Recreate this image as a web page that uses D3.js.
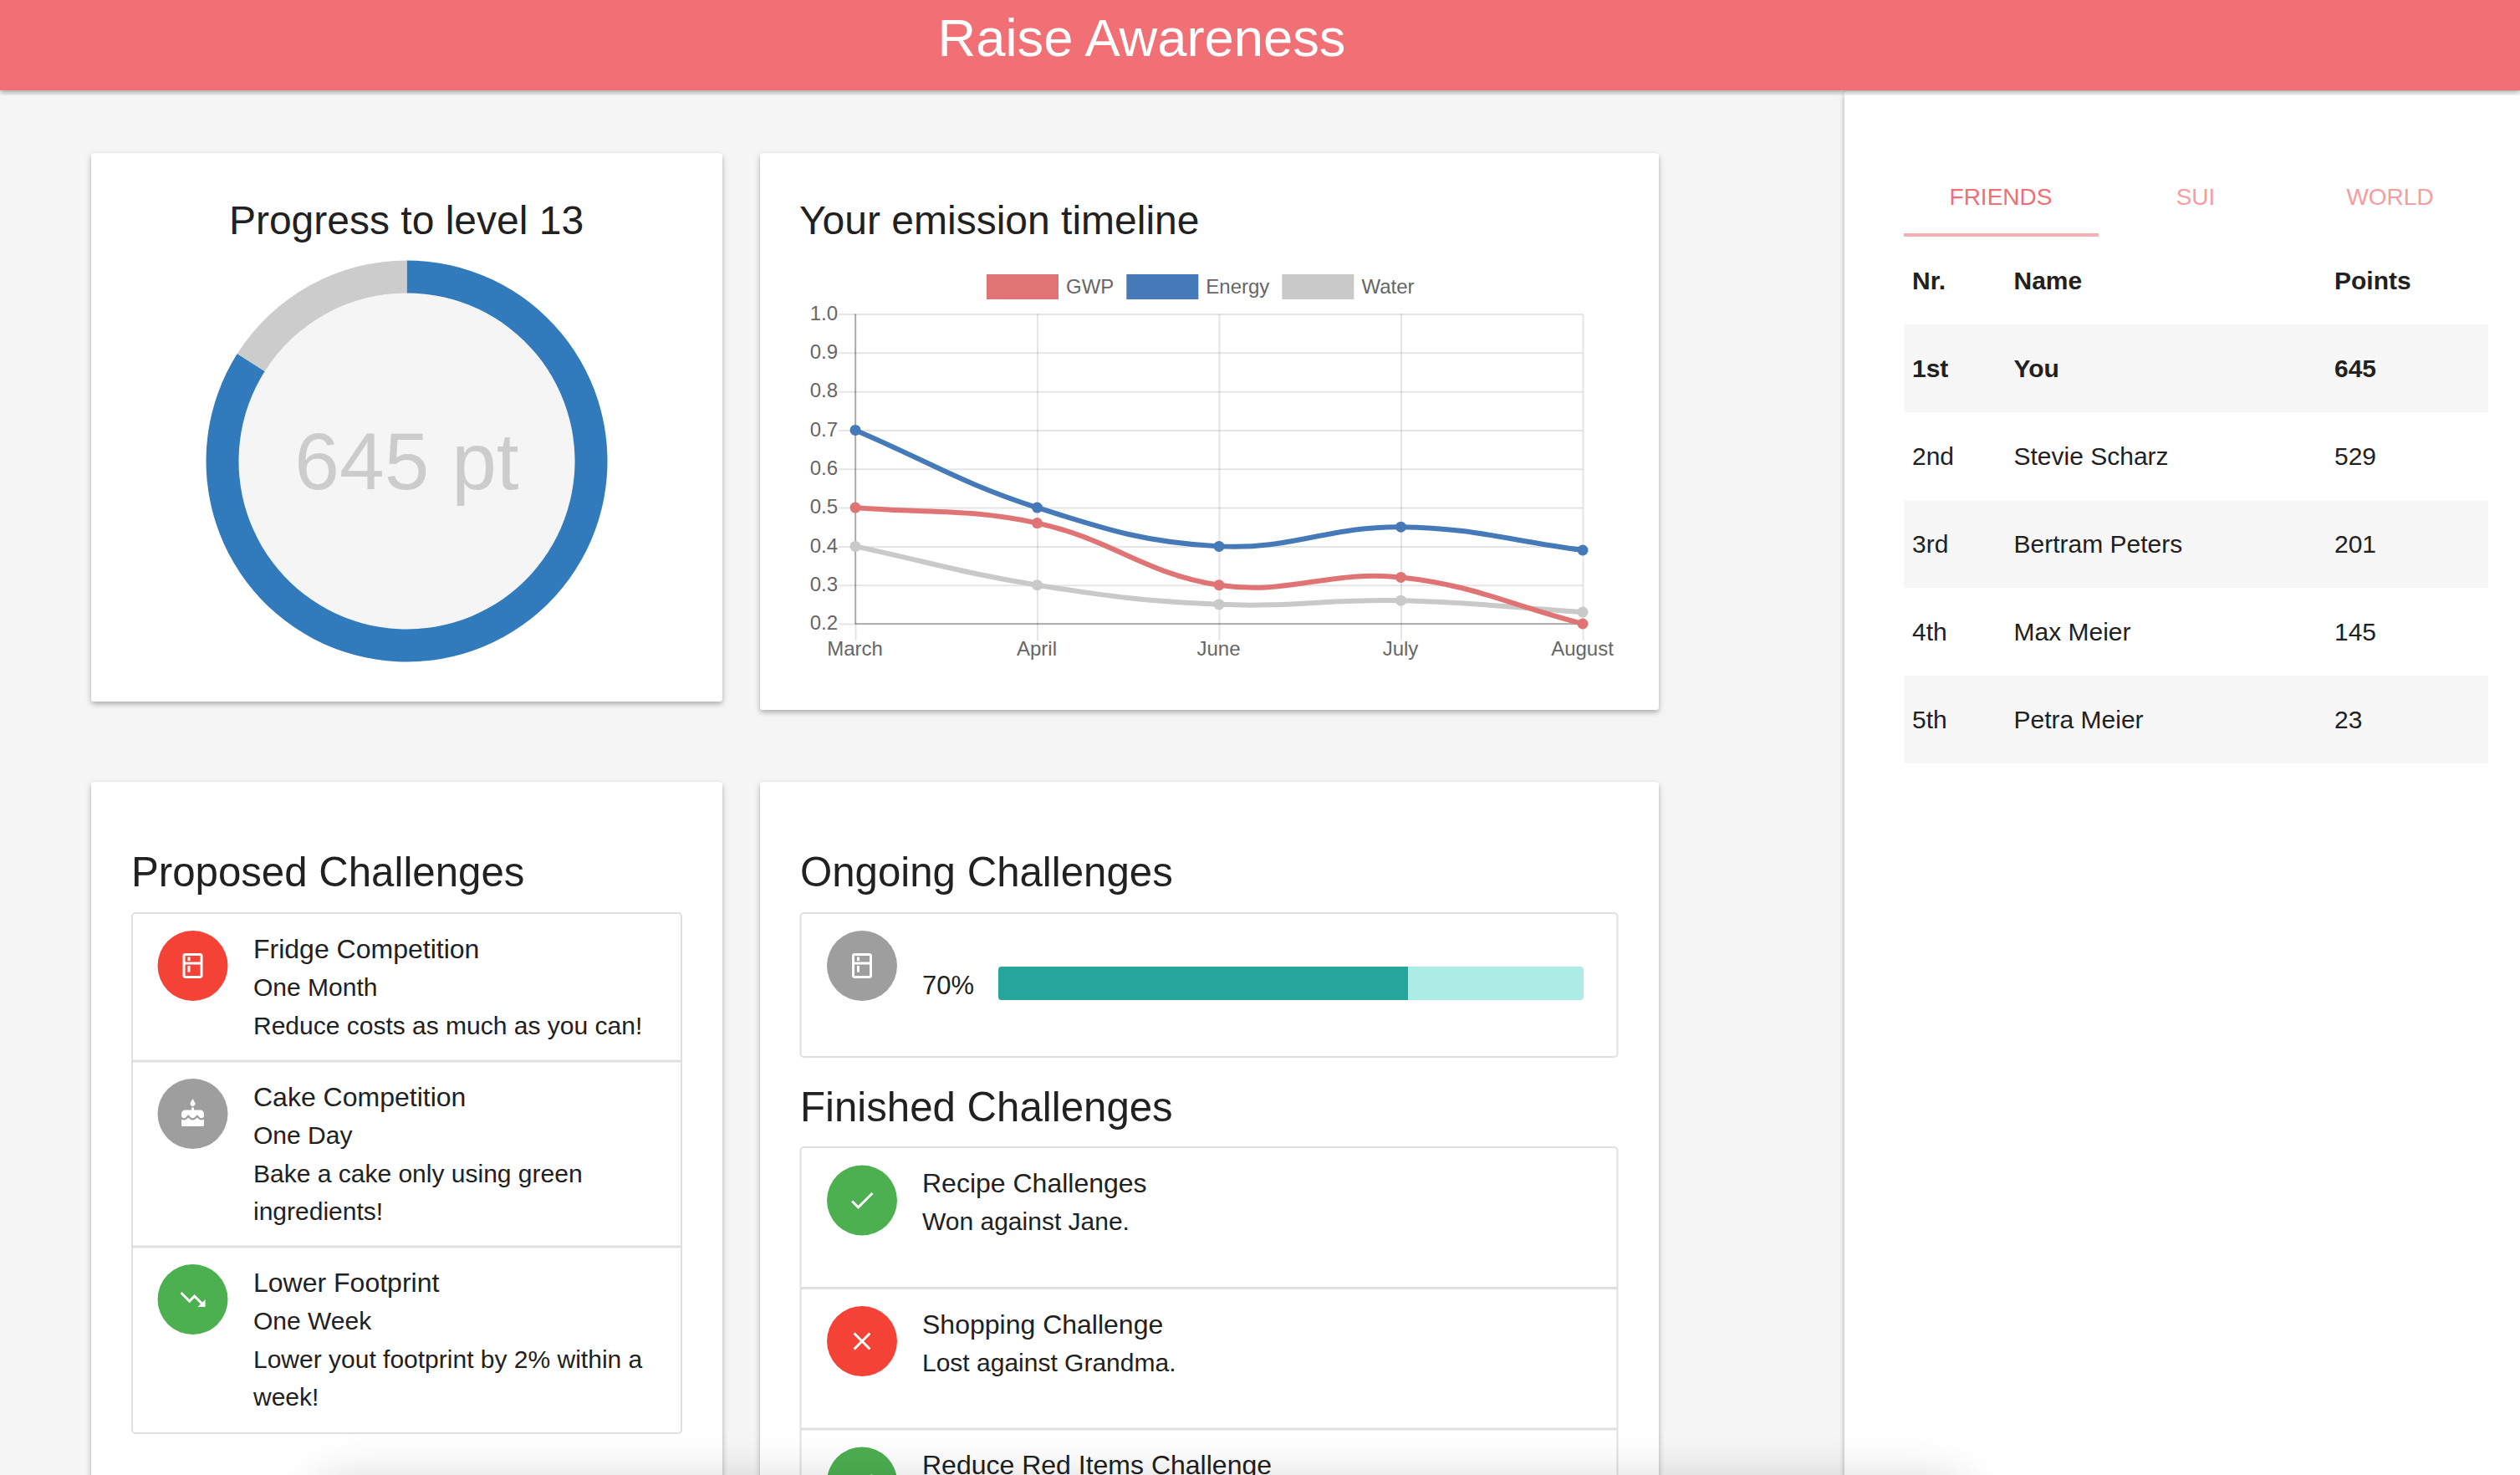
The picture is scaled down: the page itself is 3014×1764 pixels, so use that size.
<!DOCTYPE html>
<html>
<head>
<meta charset="utf-8">
<title>Raise Awareness</title>
<script src="https://cdnjs.cloudflare.com/ajax/libs/d3/7.8.5/d3.min.js"></script>
<style>
  html, body { margin: 0; padding: 0; background: #f5f5f5; overflow: hidden; }
  svg { display: block; font-family: "Liberation Sans", Arial, sans-serif; }
</style>
</head>
<body>
<div id="page"></div>
<script>
// chart data
var months = ["March", "April", "June", "July", "August"];
var yTicks = [0.2, 0.3, 0.4, 0.5, 0.6, 0.7, 0.8, 0.9, 1.0];
var gwp = [0.5, 0.46, 0.3, 0.32, 0.2];
var energy = [0.7, 0.5, 0.4, 0.45, 0.39];
var water = [0.4, 0.3, 0.25, 0.26, 0.23];
var seriesNames = ["GWP", "Energy", "Water"];
var seriesColors = ["#e07474", "#4679b8", "#c9c9c9"];

var levelParts = [645, 123];
var levelColors = ["#317bbc", "#cccccc"];
var ongoingPercent = [70];

// leaderboard
var tabs = ["FRIENDS", "SUI", "WORLD"];
var tableHead = ["Nr.", "Name", "Points"];
var ranks = ["1st", "2nd", "3rd", "4th", "5th"];
var names = ["You", "Stevie Scharz", "Bertram Peters", "Max Meier", "Petra Meier"];
var points = [645, 529, 201, 145, 23];

// challenge lists
var proposedLines = [
  ["Fridge Competition", "One Month", "Reduce costs as much as you can!"],
  ["Cake Competition", "One Day", "Bake a cake only using green", "ingredients!"],
  ["Lower Footprint", "One Week", "Lower yout footprint by 2% within a", "week!"]
];
var proposedIcons = ["kitchen", "cake", "down"];
var proposedFills = ["#f44336", "#9e9e9e", "#4caf50"];
var finishedLines = [
  ["Recipe Challenges", "Won against Jane."],
  ["Shopping Challenge", "Lost against Grandma."],
  ["Reduce Red Items Challenge"]
];
var finishedIcons = ["check", "close", "check"];
var finishedFills = ["#4caf50", "#f44336", "#4caf50"];

// material icon glyphs, 24x24
var icons = {
  kitchen: "M18 2.01L6 2c-1.1 0-2 .89-2 2v16c0 1.1.9 2 2 2h12c1.1 0 2-.9 2-2V4c0-1.11-.9-1.99-2-1.99zM18 20H6v-9.02h12V20zm0-11H6V4h12v5zM8 5h2v3H8zm0 7h2v5H8z",
  cake: "M12 6c1.11 0 2-.9 2-2 0-.38-.1-.73-.29-1.03L12 0l-1.71 2.97c-.19.3-.29.65-.29 1.03 0 1.1.9 2 2 2zm4.6 9.99l-1.07-1.07-1.08 1.07c-1.3 1.3-3.58 1.31-4.89 0l-1.07-1.07-1.09 1.07C6.75 16.64 5.88 17 4.96 17c-.73 0-1.4-.23-1.96-.61V21c0 .55.45 1 1 1h16c.55 0 1-.45 1-1v-4.61c-.56.38-1.23.61-1.96.61-.92 0-1.79-.36-2.44-1.01zM18 9h-5V7h-2v2H6c-1.66 0-3 1.34-3 3v1.54c0 1.08.88 1.96 1.96 1.96.52 0 1.02-.2 1.38-.57l2.14-2.13 2.13 2.13c.74.74 2.03.74 2.77 0l2.14-2.13 2.13 2.13c.37.37.86.57 1.38.57 1.08 0 1.96-.88 1.96-1.96V12C21 10.34 19.66 9 18 9z",
  down: "M16 18l2.29-2.29-4.88-4.88-4 4L2 7.41 3.41 6l6 6 4-4 6.3 6.29L22 12v6z",
  check: "M9 16.17L4.83 12l-1.42 1.41L9 19 21 7l-1.41-1.41z",
  close: "M19 6.41L17.59 5 12 10.59 6.41 5 5 6.41 10.59 12 5 17.59 6.41 19 12 13.41 17.59 19 19 17.59 13.41 12z"
};

var W = 3014, H = 1764;
var ink = "#212121", line = "#e0e0e0";

var svg = d3.select("#page").append("svg")
  .attr("width", W).attr("height", H)
  .attr("viewBox", "0 0 " + W + " " + H);

var defs = svg.append("defs");
var shadow = defs.append("filter").attr("id", "cardShadow")
  .attr("x", "-5%").attr("y", "-5%").attr("width", "110%").attr("height", "110%");
shadow.append("feDropShadow").attr("dx", 0).attr("dy", 3)
  .attr("stdDeviation", 3).attr("flood-color", "#000").attr("flood-opacity", 0.3);
defs.append("filter").attr("id", "blurBottom")
  .attr("x", "-20%").attr("y", "-200%").attr("width", "140%").attr("height", "500%")
  .append("feGaussianBlur").attr("stdDeviation", 30);

svg.append("rect").attr("width", W).attr("height", H).attr("fill", "#f5f5f5");

function card(x, y, w, h) {
  svg.append("rect").attr("x", x).attr("y", y).attr("width", w).attr("height", h)
    .attr("rx", 4).attr("fill", "#fff").attr("filter", "url(#cardShadow)");
}
function label(g, txt, x, y, size, opts) {
  opts = opts || {};
  return g.append("text").attr("x", x).attr("y", y).text(txt)
    .attr("font-size", size)
    .attr("fill", opts.fill || ink)
    .attr("font-weight", opts.weight || "normal")
    .attr("text-anchor", opts.anchor || "start");
}

card(109, 183, 755, 656);
card(909, 183, 1075, 666);
card(109, 935, 755, 900);
card(909, 935, 1075, 900);

// right panel and header
card(2206, 109, 900, 1760);
svg.append("rect").attr("width", W).attr("height", 108)
  .attr("fill", "#f06f75").attr("filter", "url(#cardShadow)");
label(svg, "Raise Awareness", 1365.5, 67, 63.3, {fill: "#fff", anchor: "middle"});

// --- progress donut ---
label(svg, "Progress to level 13", 486, 280, 48, {anchor: "middle"});
var donut = svg.append("g").attr("transform", "translate(486.5,551.5)");
donut.append("circle").attr("r", 201).attr("fill", "#f5f5f5");
var arc = d3.arc().innerRadius(201).outerRadius(240);
donut.selectAll("path")
  .data(d3.pie().sort(null)(levelParts))
  .enter().append("path")
  .attr("d", arc)
  .attr("fill", function(d, i) { return levelColors[i]; });
label(donut, levelParts[0] + " pt", 0, 33, 96.5, {fill: "#cccccc", anchor: "middle"});

// --- emission timeline ---
label(svg, "Your emission timeline", 956, 280, 48);

var plot = {left: 1023, top: 375.5, right: 1893, bottom: 746};
var x = d3.scalePoint().domain(months).range([0, plot.right - plot.left]);
var y = d3.scaleLinear().domain([0.2, 1.0]).range([plot.bottom - plot.top, 0]);

// legend, laid out from the measured label widths
var legend = svg.append("g").attr("transform", "translate(1180,328)");
var legendX = 0;
seriesNames.forEach(function(name, i) {
  legend.append("rect").attr("x", legendX).attr("width", 86).attr("height", 30)
    .attr("fill", seriesColors[i]);
  var t = label(legend, name, legendX + 95, 23, 24, {fill: "#666"});
  legendX += 95 + t.node().getComputedTextLength() + 15;
});

var chart = svg.append("g").attr("transform", "translate(" + plot.left + "," + plot.top + ")");
var gridW = x.range()[1], gridH = y.range()[0];

var yAxis = chart.append("g").call(d3.axisLeft(y).tickValues(yTicks)
  .tickFormat(d3.format(".1f")).tickSize(-gridW).tickPadding(21));
yAxis.selectAll("line").attr("x1", -20);
yAxis.selectAll("text").attr("transform", "translate(0,-1)");
var xAxis = chart.append("g").attr("transform", "translate(0," + gridH + ")")
  .call(d3.axisBottom(x).tickSize(-gridH).tickPadding(21));
xAxis.selectAll("line").attr("y1", 20);
xAxis.selectAll("text").attr("transform", "translate(-1,0)");

[yAxis, xAxis].forEach(function(a) {
  a.select(".domain").remove();
  a.selectAll("line").attr("stroke", "rgba(0,0,0,0.1)").attr("stroke-width", 2);
  a.selectAll("text").attr("font-size", 24).attr("font-family", "Liberation Sans").attr("fill", "#666");
});

// darker axis lines
chart.append("line").attr("x1", 0).attr("x2", 0).attr("y1", 0).attr("y2", gridH)
  .attr("stroke", "rgba(0,0,0,0.25)").attr("stroke-width", 2);
chart.append("line").attr("x1", 0).attr("x2", gridW).attr("y1", gridH).attr("y2", gridH)
  .attr("stroke", "rgba(0,0,0,0.25)").attr("stroke-width", 2);

// spline with tension 0.4, scaled by the distance to each neighbour
function splineCurve(context) {
  var pts;
  return {
    areaStart: function() {}, areaEnd: function() {},
    lineStart: function() { pts = []; },
    point: function(px, py) { pts.push([px, py]); },
    lineEnd: function() {
      var t = 0.4, ctrl = pts.map(function(p, i) {
        var a = pts[Math.max(i - 1, 0)], b = pts[Math.min(i + 1, pts.length - 1)];
        var d01 = Math.hypot(p[0] - a[0], p[1] - a[1]), d12 = Math.hypot(b[0] - p[0], b[1] - p[1]);
        var fa = t * d01 / (d01 + d12), fb = t * d12 / (d01 + d12);
        return {
          prev: [p[0] - fa * (b[0] - a[0]), p[1] - fa * (b[1] - a[1])],
          next: [p[0] + fb * (b[0] - a[0]), p[1] + fb * (b[1] - a[1])]
        };
      });
      context.moveTo(pts[0][0], pts[0][1]);
      for (var i = 1; i < pts.length; i++) {
        context.bezierCurveTo(ctrl[i - 1].next[0], ctrl[i - 1].next[1], ctrl[i].prev[0], ctrl[i].prev[1], pts[i][0], pts[i][1]);
      }
    }
  };
}
var lineGen = d3.line()
  .x(function(d, i) { return x(months[i]); })
  .y(function(d) { return y(d); })
  .curve(splineCurve);

// first series ends up on top
[water, energy, gwp].forEach(function(values, k) {
  var color = seriesColors[2 - k];
  chart.append("path").datum(values)
    .attr("d", lineGen).attr("fill", "none")
    .attr("stroke", color).attr("stroke-width", 6);
  chart.selectAll(null).data(values).enter().append("circle")
    .attr("cx", function(d, i) { return x(months[i]); })
    .attr("cy", function(d) { return y(d); })
    .attr("r", 6.5).attr("fill", color);
});

// --- challenge lists ---
function iconBadge(cx, cy, fill, icon) {
  svg.append("circle").attr("cx", cx).attr("cy", cy).attr("r", 42).attr("fill", fill);
  svg.append("path").attr("d", icons[icon]).attr("fill", "#fff")
    .attr("transform", "translate(" + (cx - 18) + "," + (cy - 18) + ") scale(1.5)");
}
function listBox(bx, by, bw, bh) {
  svg.append("rect").attr("x", bx).attr("y", by).attr("width", bw).attr("height", bh)
    .attr("rx", 4).attr("fill", "none").attr("stroke", line).attr("stroke-width", 2);
}
function divider(bx, bw, yy) {
  svg.append("line").attr("x1", bx).attr("x2", bx + bw).attr("y1", yy).attr("y2", yy)
    .attr("stroke", line).attr("stroke-width", 3);
}
function rowText(lines, tx, top) {
  lines.forEach(function(txt, i) {
    label(svg, txt, tx, top + 54 + i * 45.3, i === 0 ? 32 : 30);
  });
}

label(svg, "Proposed Challenges", 157, 1060, 49.2);
listBox(158, 1092, 657, 622);
var rowTop = 1092;
proposedLines.forEach(function(lines, i) {
  if (i > 0) divider(158, 657, rowTop);
  iconBadge(230.5, rowTop + 63, proposedFills[i], proposedIcons[i]);
  rowText(lines, 303, rowTop);
  rowTop += lines.length * 45 + 42;
});

label(svg, "Ongoing Challenges", 957, 1060, 49.2);
listBox(957.5, 1092, 977, 172);
iconBadge(1031, 1155, "#9e9e9e", "kitchen");
label(svg, ongoingPercent[0] + "%", 1103, 1189, 31);
var barScale = d3.scaleLinear().domain([0, 100]).range([0, 700]);
var bar = svg.append("g").attr("transform", "translate(1194,1156)");
bar.append("rect").attr("width", barScale(100)).attr("height", 40).attr("rx", 4).attr("fill", "#acece6");
bar.selectAll(null).data(ongoingPercent).enter().append("path")
  .attr("d", function(d) { return "M4 0H" + barScale(d) + "V40H4A4 4 0 0 1 0 36V4A4 4 0 0 1 4 0Z"; })
  .attr("fill", "#26a69a");

label(svg, "Finished Challenges", 957, 1341, 49.2);
listBox(957.5, 1372, 977, 500);
finishedLines.forEach(function(lines, i) {
  var top = 1372 + i * 168.5;
  if (i > 0) divider(957.5, 977, top);
  iconBadge(1031, top + 63.5, finishedFills[i], finishedIcons[i]);
  rowText(lines, 1103, top);
});

// --- leaderboard ---
var tabCenters = [2393, 2626, 2858.5];
tabs.forEach(function(t, i) {
  label(svg, t, tabCenters[i], 245, 28, {anchor: "middle", fill: i === 0 ? "#f06f75" : "#f59da2"});
});
svg.append("rect").attr("x", 2277).attr("y", 279).attr("width", 233).attr("height", 4).attr("fill", "#f8b0b5");

var colX = [2287, 2408.5, 2792];
tableHead.forEach(function(t, i) { label(svg, t, colX[i], 345.5, 30, {weight: "bold"}); });
ranks.forEach(function(r, i) {
  var top = 388 + i * 105;
  if (i % 2 === 0) {
    svg.append("rect").attr("x", 2277).attr("y", top).attr("width", 699).attr("height", 105).attr("fill", "#f7f7f7");
  }
  var w = i === 0 ? "bold" : "normal";
  [r, names[i], points[i]].forEach(function(v, c) {
    label(svg, v, colX[c], top + 63, 30, {weight: w});
  });
});

// soft shadow rising from the bottom edge
svg.append("rect").attr("x", 385).attr("y", 1775).attr("width", 1960).attr("height", 100)
  .attr("fill", "#000").attr("opacity", 0.2).attr("filter", "url(#blurBottom)");
</script>
</body>
</html>
